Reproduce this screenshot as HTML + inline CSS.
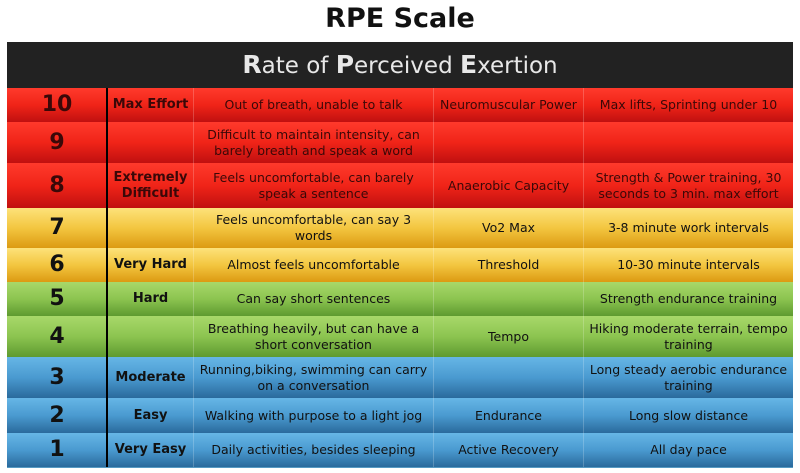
<!DOCTYPE html>
<html><head><meta charset="utf-8"><style>
body{margin:0;width:800px;height:473px;background:#fff;position:relative;overflow:hidden;font-family:"DejaVu Sans","Liberation Sans",sans-serif;color:#111}
.t{position:absolute;left:0;width:800px;top:0;text-align:center;font-weight:bold;font-size:27px;line-height:38px}
.h{position:absolute;left:7px;top:42px;width:786px;height:46px;background:#222;color:#e8e8e8;font-size:23px;line-height:46px;text-align:center}
.h b{font-size:25px}
.r{position:absolute;left:7px;width:786px;border-bottom:1px solid rgba(0,0,0,.15)}
.c{position:absolute;top:0;bottom:0;display:flex;align-items:center;justify-content:center;text-align:center;font-size:12.5px;line-height:16px;border-left:1px solid rgba(255,255,255,.2);box-sizing:border-box;white-space:nowrap}
.n{left:0;width:100px;font-size:22px;font-weight:bold;border:none}
.l{left:100px;width:86px;font-weight:900;font-size:13px}
.d{left:186px;width:240px}
.z{left:426px;width:150px}
.e{left:576px;width:210px}
.red{background:linear-gradient(#ff3a2c,#f02418 50%,#c01010);color:#3a0808}
.yel{background:linear-gradient(#fde27a,#f3c640 50%,#dc9a12)}
.grn{background:linear-gradient(#a8d86a,#8cc450 50%,#5e9a30)}
.blu{background:linear-gradient(#66b6e6,#4a9ad0 50%,#2a6a9c)}
.v{position:absolute;left:106px;top:88px;width:2px;height:379px;background:#000}
</style></head><body>
<div class="t">RPE Scale</div>
<div class="h"><b>R</b>ate of <b>P</b>erceived <b>E</b>xertion</div>

<div class="r red" style="top:88px;height:34px"><div class="c n">10</div><div class="c l">Max Effort</div><div class="c d">Out of breath, unable to talk</div><div class="c z">Neuromuscular Power</div><div class="c e">Max lifts, Sprinting under 10</div></div>
<div class="r red" style="top:122px;height:41px"><div class="c n">9</div><div class="c l"></div><div class="c d">Difficult to maintain intensity, can<br>barely breath and speak a word</div><div class="c z"></div><div class="c e"></div></div>
<div class="r red" style="top:163px;height:45px"><div class="c n">8</div><div class="c l">Extremely<br>Difficult</div><div class="c d">Feels uncomfortable, can barely<br>speak a sentence</div><div class="c z">Anaerobic Capacity</div><div class="c e">Strength &amp; Power training, 30<br>seconds to 3 min. max effort</div></div>
<div class="r yel" style="top:208px;height:40px"><div class="c n">7</div><div class="c l"></div><div class="c d">Feels uncomfortable, can say 3<br>words</div><div class="c z">Vo2 Max</div><div class="c e">3-8 minute work intervals</div></div>
<div class="r yel" style="top:248px;height:34px"><div class="c n">6</div><div class="c l">Very Hard</div><div class="c d">Almost feels uncomfortable</div><div class="c z">Threshold</div><div class="c e">10-30 minute intervals</div></div>
<div class="r grn" style="top:282px;height:34px"><div class="c n">5</div><div class="c l">Hard</div><div class="c d">Can say short sentences</div><div class="c z"></div><div class="c e">Strength endurance training</div></div>
<div class="r grn" style="top:316px;height:41px"><div class="c n">4</div><div class="c l"></div><div class="c d">Breathing heavily, but can have a<br>short conversation</div><div class="c z">Tempo</div><div class="c e">Hiking moderate terrain, tempo<br>training</div></div>
<div class="r blu" style="top:357px;height:41px"><div class="c n">3</div><div class="c l">Moderate</div><div class="c d">Running,biking, swimming can carry<br>on a conversation</div><div class="c z"></div><div class="c e">Long steady aerobic endurance<br>training</div></div>
<div class="r blu" style="top:398px;height:35px"><div class="c n">2</div><div class="c l">Easy</div><div class="c d">Walking with purpose to a light jog</div><div class="c z">Endurance</div><div class="c e">Long slow distance</div></div>
<div class="r blu" style="top:433px;height:34px"><div class="c n">1</div><div class="c l">Very Easy</div><div class="c d">Daily activities, besides sleeping</div><div class="c z">Active Recovery</div><div class="c e">All day pace</div></div>
<div class="v"></div>
</body></html>
